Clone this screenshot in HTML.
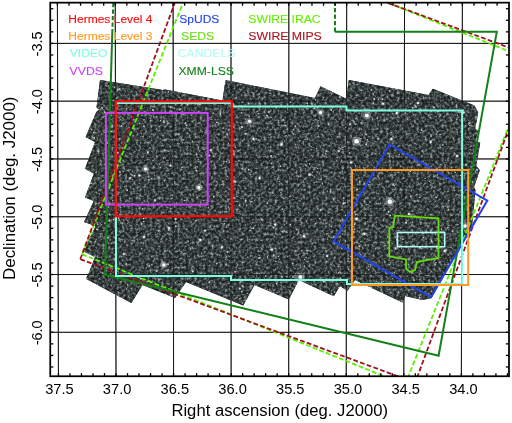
<!DOCTYPE html>
<html><head><meta charset="utf-8"><title>Survey coverage map</title>
<style>html,body{margin:0;padding:0;background:#fff}svg{display:block}</style></head>
<body>
<svg width="512" height="423" viewBox="0 0 512 423">
<defs>
<filter id="nz" x="0" y="0" width="100%" height="100%" filterUnits="objectBoundingBox" color-interpolation-filters="sRGB">
<feTurbulence type="fractalNoise" baseFrequency="0.36" numOctaves="3" seed="11" result="t"/>
<feColorMatrix in="t" type="matrix" values="0 1.667 0 0 -0.333  0 1.667 0 0 -0.333  0 1.667 0 0 -0.333  0 0 0 0 1" result="g0"/>
<feComponentTransfer in="g0" result="g"><feFuncR type="gamma" amplitude="0.47" exponent="2" offset="0.105"/><feFuncG type="gamma" amplitude="0.50" exponent="2" offset="0.125"/><feFuncB type="gamma" amplitude="0.50" exponent="2" offset="0.125"/></feComponentTransfer>
<feComposite in="g" in2="SourceGraphic" operator="in"/>
</filter>
<filter id="sb" x="-5%" y="-5%" width="110%" height="110%"><feGaussianBlur stdDeviation="0.7"/></filter>
<clipPath id="fc"><rect x="50.25" y="2.65" width="457.9" height="373.6"/></clipPath>
</defs>
<rect width="512" height="423" fill="#fff"/>
<g stroke="#111" stroke-width="0.95" fill="none" opacity="1">
<line x1="57.40" y1="2.65" x2="58.45" y2="376.25"/>
<line x1="115.26" y1="2.65" x2="116.01" y2="376.25"/>
<line x1="173.11" y1="2.65" x2="173.57" y2="376.25"/>
<line x1="230.97" y1="2.65" x2="231.13" y2="376.25"/>
<line x1="288.83" y1="2.65" x2="288.69" y2="376.25"/>
<line x1="346.68" y1="2.65" x2="346.25" y2="376.25"/>
<line x1="404.54" y1="2.65" x2="403.81" y2="376.25"/>
<line x1="462.40" y1="2.65" x2="461.37" y2="376.25"/>
<line x1="50.25" y1="43.40" x2="509.0" y2="43.40"/>
<line x1="50.25" y1="101.18" x2="509.0" y2="101.18"/>
<line x1="50.25" y1="158.96" x2="509.0" y2="158.96"/>
<line x1="50.25" y1="216.74" x2="509.0" y2="216.74"/>
<line x1="50.25" y1="274.52" x2="509.0" y2="274.52"/>
<line x1="50.25" y1="332.30" x2="509.0" y2="332.30"/>
</g>
<polygon points="100,80 163,90 165,89.5 222.5,100.5 225.5,80 315,98 320.5,86.3 346.3,98.8 348.8,80 428.5,95 432.8,88.8 474.5,105.6 478.2,112.5 475.2,128.5 478,131 475.6,141 480.2,142.8 476.3,166 479.8,170.2 474,187 475.5,190 472,227 431.6,297.9 422.5,300 405,296 402.5,302.5 355,280 347.5,291 340,286 333.8,296.3 298.8,280 288.8,299.5 254.5,285 243.2,305.5 186,282 175,298 142.5,285 131.3,303 85.8,278.8 88.8,273 95,257 83.2,251.3 95.6,226 84,222 93.8,201 85,197.5 93.8,173.8 85,168.8 95,142 85.6,137 96.3,112 99.2,109.5 96.5,107.5" fill="#3c4444"/>
<polygon points="100,80 163,90 165,89.5 222.5,100.5 225.5,80 315,98 320.5,86.3 346.3,98.8 348.8,80 428.5,95 432.8,88.8 474.5,105.6 478.2,112.5 475.2,128.5 478,131 475.6,141 480.2,142.8 476.3,166 479.8,170.2 474,187 475.5,190 472,227 431.6,297.9 422.5,300 405,296 402.5,302.5 355,280 347.5,291 340,286 333.8,296.3 298.8,280 288.8,299.5 254.5,285 243.2,305.5 186,282 175,298 142.5,285 131.3,303 85.8,278.8 88.8,273 95,257 83.2,251.3 95.6,226 84,222 93.8,201 85,197.5 93.8,173.8 85,168.8 95,142 85.6,137 96.3,112 99.2,109.5 96.5,107.5" fill="#3c4444" filter="url(#nz)"/>
<g filter="url(#sb)"><g fill="#fff">
<circle cx="145.6" cy="168.8" r="3.41" opacity="0.32"/><circle cx="145.6" cy="168.8" r="1.65"/>
<circle cx="139.4" cy="175.6" r="1.82" opacity="0.3"/><circle cx="139.4" cy="175.6" r="1.01"/>
<circle cx="198.8" cy="187.5" r="3.41" opacity="0.32"/><circle cx="198.8" cy="187.5" r="1.65"/>
<circle cx="170.6" cy="165.6" r="1.69" opacity="0.3"/><circle cx="170.6" cy="165.6" r="0.94"/>
<circle cx="130" cy="178" r="1.56" opacity="0.3"/><circle cx="130" cy="178" r="0.86"/>
<circle cx="211" cy="150" r="1.56" opacity="0.3"/><circle cx="211" cy="150" r="0.86"/>
<circle cx="155" cy="200" r="1.56" opacity="0.3"/><circle cx="155" cy="200" r="0.86"/>
<circle cx="164" cy="122" r="1.43" opacity="0.3"/><circle cx="164" cy="122" r="0.79"/>
<circle cx="320.6" cy="112.5" r="3.41" opacity="0.32"/><circle cx="320.6" cy="112.5" r="1.65"/>
<circle cx="366.9" cy="115.6" r="4.03" opacity="0.32"/><circle cx="366.9" cy="115.6" r="1.95"/>
<circle cx="356.5" cy="141.3" r="4.65" opacity="0.32"/><circle cx="356.5" cy="141.3" r="2.25"/>
<circle cx="249.4" cy="121.3" r="3.41" opacity="0.32"/><circle cx="249.4" cy="121.3" r="1.65"/>
<circle cx="281.5" cy="144.4" r="2.08" opacity="0.3"/><circle cx="281.5" cy="144.4" r="1.15"/>
<circle cx="253.4" cy="139" r="1.69" opacity="0.3"/><circle cx="253.4" cy="139" r="0.94"/>
<circle cx="383" cy="103.8" r="1.82" opacity="0.3"/><circle cx="383" cy="103.8" r="1.01"/>
<circle cx="309.7" cy="174.4" r="1.69" opacity="0.3"/><circle cx="309.7" cy="174.4" r="0.94"/>
<circle cx="338.8" cy="151" r="1.56" opacity="0.3"/><circle cx="338.8" cy="151" r="0.86"/>
<circle cx="389.8" cy="201.8" r="4.65" opacity="0.32"/><circle cx="389.8" cy="201.8" r="2.25"/>
<circle cx="259.7" cy="178" r="1.69" opacity="0.3"/><circle cx="259.7" cy="178" r="0.94"/>
<circle cx="396.9" cy="113" r="1.95" opacity="0.3"/><circle cx="396.9" cy="113" r="1.08"/>
<circle cx="391.5" cy="139" r="1.95" opacity="0.3"/><circle cx="391.5" cy="139" r="1.08"/>
<circle cx="457" cy="156" r="1.95" opacity="0.3"/><circle cx="457" cy="156" r="1.08"/>
<circle cx="463.4" cy="112.5" r="1.95" opacity="0.3"/><circle cx="463.4" cy="112.5" r="1.08"/>
<circle cx="430.6" cy="142" r="1.69" opacity="0.3"/><circle cx="430.6" cy="142" r="0.94"/>
<circle cx="351" cy="162.5" r="1.69" opacity="0.3"/><circle cx="351" cy="162.5" r="0.94"/>
<circle cx="163.8" cy="265" r="3.56" opacity="0.32"/><circle cx="163.8" cy="265" r="1.72"/>
<circle cx="144" cy="237" r="1.95" opacity="0.3"/><circle cx="144" cy="237" r="1.08"/>
<circle cx="169" cy="228" r="1.82" opacity="0.3"/><circle cx="169" cy="228" r="1.01"/>
<circle cx="200.3" cy="240" r="1.95" opacity="0.3"/><circle cx="200.3" cy="240" r="1.08"/>
<circle cx="205" cy="230.6" r="1.69" opacity="0.3"/><circle cx="205" cy="230.6" r="0.94"/>
<circle cx="123.8" cy="254" r="1.56" opacity="0.3"/><circle cx="123.8" cy="254" r="0.86"/>
<circle cx="300.3" cy="276.9" r="4.03" opacity="0.32"/><circle cx="300.3" cy="276.9" r="1.95"/>
<circle cx="304" cy="236.3" r="2.08" opacity="0.3"/><circle cx="304" cy="236.3" r="1.15"/>
<circle cx="275.3" cy="224.4" r="1.82" opacity="0.3"/><circle cx="275.3" cy="224.4" r="1.01"/>
<circle cx="272" cy="249.4" r="1.82" opacity="0.3"/><circle cx="272" cy="249.4" r="1.01"/>
<circle cx="356.5" cy="218.8" r="2.34" opacity="0.3"/><circle cx="356.5" cy="218.8" r="1.30"/>
<circle cx="364.4" cy="233.8" r="2.08" opacity="0.3"/><circle cx="364.4" cy="233.8" r="1.15"/>
<circle cx="327" cy="256" r="1.69" opacity="0.3"/><circle cx="327" cy="256" r="0.94"/>
<circle cx="465" cy="226" r="3.41" opacity="0.32"/><circle cx="465" cy="226" r="1.65"/>
<circle cx="444.7" cy="251" r="1.82" opacity="0.3"/><circle cx="444.7" cy="251" r="1.01"/>
<circle cx="242" cy="127" r="1.56" opacity="0.3"/><circle cx="242" cy="127" r="0.86"/>
<circle cx="418" cy="103" r="1.95" opacity="0.3"/><circle cx="418" cy="103" r="1.08"/>
<circle cx="409" cy="214" r="1.69" opacity="0.3"/><circle cx="409" cy="214" r="0.94"/>
<circle cx="222" cy="247" r="1.69" opacity="0.3"/><circle cx="222" cy="247" r="0.94"/>
</g><g fill="#e4eaea" opacity="0.85">
<circle cx="212.9" cy="113.9" r="0.45"/>
<circle cx="112.8" cy="200.6" r="0.7"/>
<circle cx="315.9" cy="284.7" r="0.6"/>
<circle cx="98.9" cy="177.6" r="0.5"/>
<circle cx="179.8" cy="204.0" r="0.45"/>
<circle cx="413.1" cy="107.9" r="0.6"/>
<circle cx="335.0" cy="211.2" r="0.45"/>
<circle cx="313.7" cy="169.3" r="0.6"/>
<circle cx="102.5" cy="273.2" r="0.65"/>
<circle cx="250.8" cy="201.7" r="0.65"/>
<circle cx="307.0" cy="233.5" r="0.5"/>
<circle cx="315.5" cy="223.8" r="0.7"/>
<circle cx="122.8" cy="240.2" r="0.45"/>
<circle cx="330.4" cy="191.7" r="0.8"/>
<circle cx="393.3" cy="184.8" r="0.95"/>
<circle cx="227.9" cy="135.9" r="0.55"/>
<circle cx="362.2" cy="134.9" r="0.65"/>
<circle cx="293.0" cy="276.9" r="0.95"/>
<circle cx="131.0" cy="174.1" r="0.7"/>
<circle cx="144.5" cy="190.0" r="0.45"/>
<circle cx="306.1" cy="257.5" r="0.7"/>
<circle cx="219.4" cy="158.8" r="0.95"/>
<circle cx="314.8" cy="182.6" r="0.5"/>
<circle cx="460.0" cy="186.7" r="0.5"/>
<circle cx="108.1" cy="237.8" r="0.95"/>
<circle cx="197.3" cy="166.8" r="0.7"/>
<circle cx="93.0" cy="183.9" r="0.55"/>
<circle cx="327.1" cy="191.1" r="0.6"/>
<circle cx="389.8" cy="109.1" r="0.6"/>
<circle cx="242.4" cy="286.3" r="0.95"/>
<circle cx="116.1" cy="181.1" r="0.65"/>
<circle cx="435.6" cy="264.3" r="0.65"/>
<circle cx="355.7" cy="165.6" r="0.6"/>
<circle cx="144.1" cy="119.6" r="0.6"/>
<circle cx="414.8" cy="121.0" r="0.65"/>
<circle cx="231.0" cy="207.4" r="0.55"/>
<circle cx="358.8" cy="196.0" r="0.45"/>
<circle cx="265.7" cy="276.0" r="0.8"/>
<circle cx="242.4" cy="168.7" r="0.95"/>
<circle cx="110.8" cy="127.0" r="0.55"/>
<circle cx="127.8" cy="215.2" r="0.5"/>
<circle cx="124.4" cy="161.8" r="0.45"/>
<circle cx="112.0" cy="126.8" r="0.8"/>
<circle cx="143.1" cy="136.8" r="0.7"/>
<circle cx="323.7" cy="186.7" r="0.5"/>
<circle cx="269.5" cy="188.9" r="0.5"/>
<circle cx="141.4" cy="248.7" r="0.65"/>
<circle cx="274.5" cy="235.7" r="0.45"/>
<circle cx="165.7" cy="294.2" r="0.7"/>
<circle cx="142.3" cy="202.2" r="0.45"/>
<circle cx="385.7" cy="147.1" r="0.5"/>
<circle cx="361.1" cy="138.8" r="0.7"/>
<circle cx="445.5" cy="160.0" r="0.6"/>
<circle cx="296.0" cy="255.3" r="0.7"/>
<circle cx="337.3" cy="218.0" r="0.6"/>
<circle cx="404.8" cy="264.1" r="0.6"/>
<circle cx="163.6" cy="190.9" r="0.45"/>
<circle cx="272.0" cy="123.6" r="0.7"/>
<circle cx="229.1" cy="129.6" r="0.6"/>
<circle cx="271.1" cy="156.0" r="0.95"/>
<circle cx="332.4" cy="282.6" r="0.45"/>
<circle cx="274.8" cy="226.9" r="0.5"/>
<circle cx="416.2" cy="107.0" r="0.8"/>
<circle cx="395.4" cy="248.8" r="0.95"/>
<circle cx="437.8" cy="177.6" r="0.7"/>
<circle cx="118.5" cy="292.9" r="0.8"/>
<circle cx="268.3" cy="247.3" r="0.5"/>
<circle cx="372.5" cy="118.3" r="0.55"/>
<circle cx="95.0" cy="212.9" r="0.95"/>
<circle cx="405.0" cy="112.9" r="0.95"/>
<circle cx="345.6" cy="158.8" r="0.55"/>
<circle cx="373.1" cy="103.1" r="0.55"/>
<circle cx="256.7" cy="276.1" r="0.6"/>
<circle cx="95.1" cy="127.9" r="0.6"/>
<circle cx="387.9" cy="153.3" r="0.8"/>
<circle cx="416.0" cy="93.7" r="0.7"/>
<circle cx="441.3" cy="229.1" r="0.8"/>
<circle cx="413.2" cy="277.6" r="0.55"/>
<circle cx="295.7" cy="197.8" r="0.45"/>
<circle cx="431.4" cy="254.7" r="0.45"/>
<circle cx="392.9" cy="113.7" r="0.55"/>
<circle cx="272.5" cy="243.2" r="0.45"/>
<circle cx="213.7" cy="196.6" r="0.95"/>
<circle cx="396.1" cy="103.9" r="0.45"/>
<circle cx="182.9" cy="142.3" r="0.5"/>
<circle cx="286.1" cy="206.4" r="0.5"/>
<circle cx="260.4" cy="217.8" r="0.6"/>
<circle cx="359.7" cy="181.8" r="0.95"/>
<circle cx="286.1" cy="135.7" r="0.65"/>
<circle cx="164.6" cy="180.7" r="0.8"/>
<circle cx="132.4" cy="179.5" r="0.5"/>
<circle cx="351.1" cy="176.4" r="0.6"/>
<circle cx="350.4" cy="256.4" r="0.55"/>
<circle cx="457.9" cy="224.8" r="0.7"/>
<circle cx="140.9" cy="278.6" r="0.95"/>
<circle cx="171.4" cy="294.3" r="0.8"/>
<circle cx="436.2" cy="116.6" r="0.6"/>
<circle cx="148.3" cy="177.1" r="0.8"/>
<circle cx="219.0" cy="124.0" r="0.7"/>
<circle cx="120.7" cy="162.3" r="0.7"/>
<circle cx="304.5" cy="179.1" r="0.45"/>
<circle cx="237.0" cy="196.4" r="0.65"/>
<circle cx="287.9" cy="94.5" r="0.6"/>
<circle cx="394.0" cy="140.9" r="0.55"/>
<circle cx="410.3" cy="271.2" r="0.65"/>
<circle cx="245.6" cy="200.7" r="0.95"/>
<circle cx="362.8" cy="100.1" r="0.45"/>
<circle cx="402.2" cy="121.3" r="0.5"/>
<circle cx="119.2" cy="138.6" r="0.6"/>
<circle cx="110.5" cy="274.1" r="0.95"/>
<circle cx="250.3" cy="286.0" r="0.55"/>
<circle cx="101.2" cy="239.6" r="0.5"/>
<circle cx="469.7" cy="138.9" r="0.55"/>
<circle cx="164.3" cy="150.2" r="0.65"/>
<circle cx="295.4" cy="126.3" r="0.95"/>
<circle cx="283.0" cy="120.0" r="0.7"/>
<circle cx="288.7" cy="135.3" r="0.95"/>
<circle cx="126.3" cy="264.3" r="0.8"/>
<circle cx="345.3" cy="202.8" r="0.8"/>
<circle cx="470.2" cy="149.3" r="0.6"/>
<circle cx="475.0" cy="157.1" r="0.55"/>
<circle cx="245.1" cy="158.2" r="0.45"/>
<circle cx="332.9" cy="278.0" r="0.8"/>
<circle cx="149.0" cy="99.0" r="0.8"/>
<circle cx="430.5" cy="230.9" r="0.65"/>
<circle cx="322.3" cy="235.9" r="0.45"/>
<circle cx="266.9" cy="115.4" r="0.95"/>
<circle cx="435.2" cy="129.0" r="0.55"/>
<circle cx="272.9" cy="193.1" r="0.6"/>
<circle cx="182.8" cy="254.7" r="0.5"/>
<circle cx="189.1" cy="100.2" r="0.8"/>
<circle cx="317.5" cy="168.6" r="0.65"/>
<circle cx="205.1" cy="132.4" r="0.55"/>
<circle cx="345.7" cy="241.1" r="0.8"/>
<circle cx="388.2" cy="242.2" r="0.95"/>
<circle cx="143.5" cy="242.9" r="0.55"/>
<circle cx="101.4" cy="267.9" r="0.8"/>
<circle cx="376.1" cy="262.7" r="0.55"/>
<circle cx="446.1" cy="249.4" r="0.45"/>
<circle cx="412.9" cy="211.4" r="0.6"/>
<circle cx="117.9" cy="89.4" r="0.7"/>
<circle cx="465.9" cy="164.7" r="0.95"/>
<circle cx="306.3" cy="221.2" r="0.6"/>
<circle cx="401.5" cy="248.4" r="0.5"/>
<circle cx="377.2" cy="136.7" r="0.5"/>
<circle cx="420.8" cy="132.8" r="0.6"/>
<circle cx="175.8" cy="226.2" r="0.95"/>
<circle cx="280.6" cy="166.1" r="0.95"/>
<circle cx="446.4" cy="144.6" r="0.45"/>
<circle cx="329.6" cy="224.6" r="0.5"/>
<circle cx="322.7" cy="154.6" r="0.65"/>
<circle cx="331.2" cy="110.0" r="0.95"/>
<circle cx="108.1" cy="140.5" r="0.5"/>
<circle cx="359.5" cy="232.0" r="0.65"/>
<circle cx="366.1" cy="144.2" r="0.95"/>
<circle cx="269.6" cy="106.7" r="0.6"/>
<circle cx="208.0" cy="99.3" r="0.95"/>
<circle cx="91.0" cy="183.3" r="0.95"/>
<circle cx="113.7" cy="100.3" r="0.65"/>
<circle cx="463.2" cy="109.8" r="0.65"/>
<circle cx="437.0" cy="238.3" r="0.6"/>
<circle cx="282.2" cy="277.1" r="0.8"/>
<circle cx="279.7" cy="181.4" r="0.65"/>
<circle cx="373.4" cy="173.6" r="0.8"/>
<circle cx="209.8" cy="269.1" r="0.45"/>
<circle cx="213.2" cy="156.1" r="0.8"/>
<circle cx="131.8" cy="288.4" r="0.45"/>
<circle cx="442.8" cy="145.2" r="0.7"/>
<circle cx="109.9" cy="167.8" r="0.5"/>
<circle cx="227.6" cy="176.3" r="0.65"/>
<circle cx="424.0" cy="143.1" r="0.45"/>
<circle cx="416.2" cy="144.3" r="0.55"/>
<circle cx="183.2" cy="139.8" r="0.7"/>
<circle cx="159.6" cy="164.0" r="0.8"/>
<circle cx="435.9" cy="262.7" r="0.8"/>
<circle cx="302.6" cy="241.9" r="0.45"/>
<circle cx="455.5" cy="172.4" r="0.55"/>
<circle cx="340.5" cy="144.4" r="0.45"/>
<circle cx="446.9" cy="203.8" r="0.55"/>
<circle cx="271.9" cy="157.3" r="0.65"/>
<circle cx="185.8" cy="246.2" r="0.65"/>
<circle cx="245.7" cy="133.7" r="0.95"/>
<circle cx="305.8" cy="168.7" r="0.55"/>
<circle cx="340.0" cy="96.9" r="0.95"/>
<circle cx="303.1" cy="181.9" r="0.7"/>
<circle cx="139.6" cy="123.3" r="0.5"/>
<circle cx="153.5" cy="205.1" r="0.7"/>
<circle cx="179.2" cy="138.1" r="0.6"/>
<circle cx="437.1" cy="248.7" r="0.8"/>
<circle cx="236.4" cy="247.8" r="0.6"/>
<circle cx="234.0" cy="156.1" r="0.45"/>
<circle cx="282.3" cy="209.2" r="0.7"/>
<circle cx="134.1" cy="193.3" r="0.6"/>
<circle cx="120.9" cy="281.8" r="0.8"/>
<circle cx="243.1" cy="180.3" r="0.65"/>
<circle cx="421.8" cy="276.4" r="0.45"/>
<circle cx="134.6" cy="175.7" r="0.95"/>
<circle cx="469.4" cy="190.2" r="0.5"/>
<circle cx="239.8" cy="288.5" r="0.95"/>
<circle cx="471.0" cy="135.9" r="0.5"/>
<circle cx="173.1" cy="114.2" r="0.5"/>
<circle cx="458.7" cy="242.4" r="0.95"/>
<circle cx="117.8" cy="254.8" r="0.45"/>
<circle cx="395.4" cy="132.3" r="0.45"/>
<circle cx="340.9" cy="148.4" r="0.55"/>
<circle cx="333.3" cy="198.9" r="0.8"/>
<circle cx="362.0" cy="105.2" r="0.5"/>
<circle cx="160.3" cy="138.7" r="0.45"/>
<circle cx="340.5" cy="278.8" r="0.95"/>
<circle cx="293.5" cy="203.1" r="0.45"/>
<circle cx="282.3" cy="231.8" r="0.8"/>
<circle cx="116.3" cy="131.3" r="0.8"/>
<circle cx="452.2" cy="131.0" r="0.45"/>
<circle cx="360.9" cy="241.6" r="0.7"/>
<circle cx="355.7" cy="124.6" r="0.65"/>
<circle cx="378.2" cy="193.6" r="0.6"/>
<circle cx="281.3" cy="125.1" r="0.6"/>
<circle cx="175.9" cy="129.8" r="0.65"/>
<circle cx="127.4" cy="220.3" r="0.55"/>
<circle cx="440.8" cy="189.1" r="0.45"/>
<circle cx="461.6" cy="112.9" r="0.8"/>
<circle cx="105.6" cy="85.3" r="0.55"/>
<circle cx="249.3" cy="239.7" r="0.55"/>
<circle cx="240.5" cy="282.1" r="0.7"/>
<circle cx="454.8" cy="154.1" r="0.55"/>
<circle cx="343.7" cy="198.1" r="0.95"/>
<circle cx="96.7" cy="229.5" r="0.8"/>
<circle cx="260.1" cy="104.5" r="0.5"/>
<circle cx="195.4" cy="159.1" r="0.5"/>
<circle cx="307.3" cy="250.7" r="0.8"/>
<circle cx="225.9" cy="264.9" r="0.8"/>
<circle cx="118.9" cy="238.7" r="0.6"/>
<circle cx="232.3" cy="286.9" r="0.6"/>
<circle cx="212.7" cy="245.9" r="0.95"/>
<circle cx="96.1" cy="172.4" r="0.8"/>
<circle cx="100.2" cy="87.8" r="0.5"/>
<circle cx="403.7" cy="94.0" r="0.6"/>
<circle cx="381.4" cy="282.2" r="0.7"/>
<circle cx="228.5" cy="155.4" r="0.45"/>
<circle cx="188.3" cy="241.2" r="0.7"/>
<circle cx="451.8" cy="146.9" r="0.5"/>
<circle cx="93.7" cy="132.6" r="0.95"/>
<circle cx="368.8" cy="184.8" r="0.8"/>
<circle cx="398.3" cy="285.5" r="0.95"/>
<circle cx="136.8" cy="191.7" r="0.45"/>
<circle cx="403.4" cy="246.2" r="0.55"/>
<circle cx="325.7" cy="153.8" r="0.7"/>
<circle cx="267.4" cy="256.4" r="0.5"/>
<circle cx="287.7" cy="168.1" r="0.55"/>
<circle cx="182.4" cy="94.6" r="0.45"/>
<circle cx="275.7" cy="202.5" r="0.55"/>
<circle cx="117.5" cy="101.7" r="0.95"/>
<circle cx="152.9" cy="109.9" r="0.95"/>
<circle cx="330.9" cy="231.7" r="0.5"/>
<circle cx="394.3" cy="146.1" r="0.65"/>
<circle cx="309.6" cy="163.9" r="0.65"/>
<circle cx="163.3" cy="135.7" r="0.6"/>
<circle cx="177.7" cy="143.3" r="0.6"/>
<circle cx="213.9" cy="169.1" r="0.6"/>
<circle cx="285.9" cy="132.1" r="0.5"/>
<circle cx="124.7" cy="186.8" r="0.6"/>
<circle cx="418.5" cy="285.7" r="0.45"/>
<circle cx="433.0" cy="132.4" r="0.45"/>
<circle cx="232.2" cy="274.9" r="0.95"/>
<circle cx="324.0" cy="254.4" r="0.45"/>
<circle cx="126.1" cy="214.1" r="0.7"/>
<circle cx="170.6" cy="163.0" r="0.55"/>
<circle cx="99.2" cy="244.8" r="0.6"/>
<circle cx="408.3" cy="264.2" r="0.8"/>
<circle cx="354.0" cy="121.7" r="0.65"/>
<circle cx="115.0" cy="87.1" r="0.95"/>
<circle cx="124.4" cy="168.9" r="0.55"/>
<circle cx="338.4" cy="100.5" r="0.55"/>
<circle cx="242.3" cy="141.0" r="0.65"/>
<circle cx="349.8" cy="174.0" r="0.45"/>
<circle cx="208.3" cy="207.5" r="0.7"/>
<circle cx="389.1" cy="260.5" r="0.6"/>
<circle cx="239.5" cy="171.1" r="0.45"/>
<circle cx="256.8" cy="115.2" r="0.5"/>
<circle cx="410.5" cy="171.4" r="0.7"/>
<circle cx="267.4" cy="116.6" r="0.45"/>
<circle cx="104.6" cy="112.1" r="0.8"/>
<circle cx="119.4" cy="220.0" r="0.7"/>
<circle cx="377.4" cy="118.6" r="0.7"/>
<circle cx="196.8" cy="197.3" r="0.5"/>
<circle cx="127.3" cy="190.4" r="0.6"/>
<circle cx="204.0" cy="268.4" r="0.45"/>
<circle cx="472.3" cy="188.6" r="0.45"/>
<circle cx="325.8" cy="223.2" r="0.5"/>
<circle cx="443.9" cy="219.6" r="0.55"/>
<circle cx="338.8" cy="272.7" r="0.8"/>
<circle cx="328.7" cy="124.1" r="0.95"/>
<circle cx="156.8" cy="129.1" r="0.8"/>
<circle cx="457.5" cy="115.2" r="0.7"/>
<circle cx="133.0" cy="135.6" r="0.6"/>
<circle cx="100.4" cy="206.5" r="0.45"/>
<circle cx="349.8" cy="152.9" r="0.8"/>
<circle cx="322.6" cy="203.8" r="0.65"/>
<circle cx="342.3" cy="149.3" r="0.6"/>
<circle cx="253.4" cy="228.2" r="0.95"/>
<circle cx="284.4" cy="120.2" r="0.45"/>
<circle cx="330.3" cy="190.1" r="0.6"/>
<circle cx="261.8" cy="219.2" r="0.95"/>
<circle cx="416.9" cy="262.4" r="0.8"/>
<circle cx="126.6" cy="108.9" r="0.8"/>
<circle cx="229.4" cy="260.5" r="0.45"/>
<circle cx="100.2" cy="109.3" r="0.7"/>
<circle cx="393.5" cy="195.1" r="0.45"/>
<circle cx="383.3" cy="281.3" r="0.55"/>
<circle cx="328.4" cy="235.8" r="0.5"/>
<circle cx="279.8" cy="295.2" r="0.55"/>
<circle cx="357.1" cy="242.2" r="0.6"/>
<circle cx="110.1" cy="159.0" r="0.65"/>
<circle cx="147.2" cy="281.7" r="0.65"/>
<circle cx="444.2" cy="182.7" r="0.65"/>
<circle cx="283.9" cy="287.0" r="0.6"/>
<circle cx="319.6" cy="218.6" r="0.6"/>
<circle cx="156.5" cy="116.3" r="0.65"/>
<circle cx="151.2" cy="256.6" r="0.5"/>
<circle cx="389.8" cy="90.9" r="0.7"/>
<circle cx="468.5" cy="181.9" r="0.5"/>
<circle cx="184.3" cy="200.5" r="0.8"/>
<circle cx="377.7" cy="163.6" r="0.8"/>
<circle cx="227.4" cy="252.0" r="0.95"/>
<circle cx="175.6" cy="218.5" r="0.45"/>
<circle cx="202.0" cy="196.1" r="0.65"/>
<circle cx="317.2" cy="229.3" r="0.7"/>
<circle cx="375.7" cy="248.1" r="0.6"/>
<circle cx="143.4" cy="218.6" r="0.8"/>
<circle cx="250.2" cy="161.9" r="0.45"/>
<circle cx="136.5" cy="131.1" r="0.45"/>
<circle cx="225.3" cy="103.9" r="0.7"/>
<circle cx="296.6" cy="173.0" r="0.65"/>
<circle cx="318.5" cy="125.9" r="0.95"/>
<circle cx="403.0" cy="239.2" r="0.95"/>
<circle cx="122.1" cy="223.6" r="0.65"/>
<circle cx="244.0" cy="139.5" r="0.45"/>
<circle cx="106.3" cy="264.7" r="0.7"/>
<circle cx="320.7" cy="210.2" r="0.95"/>
<circle cx="182.9" cy="283.3" r="0.45"/>
<circle cx="108.5" cy="85.7" r="0.55"/>
<circle cx="178.6" cy="93.1" r="0.5"/>
<circle cx="458.5" cy="112.0" r="0.6"/>
<circle cx="290.3" cy="224.6" r="0.8"/>
<circle cx="407.7" cy="119.3" r="0.65"/>
<circle cx="109.4" cy="220.8" r="0.95"/>
<circle cx="420.1" cy="247.7" r="0.95"/>
<circle cx="116.0" cy="227.5" r="0.55"/>
<circle cx="173.9" cy="103.7" r="0.6"/>
<circle cx="340.3" cy="107.7" r="0.65"/>
<circle cx="367.3" cy="139.8" r="0.8"/>
<circle cx="470.8" cy="146.5" r="0.6"/>
<circle cx="118.0" cy="194.2" r="0.55"/>
<circle cx="187.6" cy="133.1" r="0.6"/>
<circle cx="460.0" cy="247.9" r="0.7"/>
<circle cx="160.4" cy="167.5" r="0.6"/>
<circle cx="235.0" cy="271.7" r="0.95"/>
<circle cx="271.9" cy="199.4" r="0.45"/>
<circle cx="425.3" cy="178.4" r="0.6"/>
<circle cx="311.0" cy="149.2" r="0.6"/>
<circle cx="239.8" cy="211.7" r="0.55"/>
<circle cx="126.5" cy="289.0" r="0.7"/>
<circle cx="111.0" cy="90.5" r="0.7"/>
<circle cx="296.5" cy="229.4" r="0.8"/>
<circle cx="126.6" cy="126.3" r="0.5"/>
<circle cx="446.6" cy="249.6" r="0.5"/>
<circle cx="412.4" cy="222.1" r="0.65"/>
<circle cx="273.9" cy="109.8" r="0.6"/>
<circle cx="201.2" cy="155.7" r="0.65"/>
<circle cx="92.3" cy="137.8" r="0.65"/>
<circle cx="103.3" cy="251.0" r="0.7"/>
<circle cx="390.2" cy="215.5" r="0.95"/>
<circle cx="422.8" cy="219.1" r="0.45"/>
<circle cx="290.4" cy="102.1" r="0.95"/>
<circle cx="364.5" cy="201.0" r="0.6"/>
<circle cx="368.3" cy="266.3" r="0.65"/>
<circle cx="164.4" cy="251.5" r="0.45"/>
<circle cx="279.6" cy="259.3" r="0.55"/>
<circle cx="468.9" cy="213.3" r="0.65"/>
<circle cx="314.0" cy="115.8" r="0.6"/>
<circle cx="457.4" cy="132.1" r="0.55"/>
<circle cx="127.7" cy="223.2" r="0.5"/>
<circle cx="307.4" cy="103.5" r="0.7"/>
<circle cx="225.5" cy="170.3" r="0.8"/>
<circle cx="439.0" cy="247.7" r="0.8"/>
<circle cx="166.0" cy="139.2" r="0.55"/>
<circle cx="235.0" cy="278.9" r="0.6"/>
<circle cx="459.7" cy="108.5" r="0.45"/>
<circle cx="222.7" cy="153.5" r="0.55"/>
<circle cx="429.5" cy="181.3" r="0.7"/>
<circle cx="151.5" cy="178.7" r="0.65"/>
<circle cx="314.5" cy="108.4" r="0.95"/>
<circle cx="339.8" cy="236.7" r="0.6"/>
<circle cx="190.5" cy="249.8" r="0.55"/>
<circle cx="371.8" cy="215.7" r="0.7"/>
<circle cx="148.0" cy="153.8" r="0.6"/>
<circle cx="345.8" cy="124.0" r="0.55"/>
<circle cx="375.9" cy="177.9" r="0.6"/>
<circle cx="127.5" cy="285.1" r="0.65"/>
<circle cx="166.2" cy="167.4" r="0.45"/>
<circle cx="257.7" cy="130.1" r="0.65"/>
<circle cx="268.4" cy="111.9" r="0.8"/>
<circle cx="423.5" cy="237.8" r="0.8"/>
<circle cx="420.7" cy="230.3" r="0.6"/>
<circle cx="354.5" cy="224.3" r="0.95"/>
<circle cx="256.1" cy="138.5" r="0.5"/>
<circle cx="440.1" cy="134.5" r="0.8"/>
<circle cx="367.8" cy="221.7" r="0.65"/>
<circle cx="422.1" cy="188.6" r="0.45"/>
<circle cx="331.4" cy="172.1" r="0.55"/>
<circle cx="440.0" cy="153.8" r="0.45"/>
<circle cx="238.7" cy="190.2" r="0.5"/>
<circle cx="99.2" cy="202.3" r="0.55"/>
<circle cx="163.5" cy="158.3" r="0.95"/>
<circle cx="299.3" cy="241.4" r="0.45"/>
<circle cx="338.4" cy="266.5" r="0.7"/>
<circle cx="247.3" cy="293.3" r="0.6"/>
<circle cx="288.5" cy="289.9" r="0.7"/>
<circle cx="337.8" cy="136.8" r="0.8"/>
<circle cx="250.6" cy="174.6" r="0.7"/>
<circle cx="314.9" cy="104.6" r="0.65"/>
<circle cx="293.8" cy="129.3" r="0.8"/>
<circle cx="267.9" cy="117.0" r="0.5"/>
<circle cx="406.2" cy="222.7" r="0.95"/>
<circle cx="339.6" cy="242.2" r="0.55"/>
<circle cx="224.5" cy="223.7" r="0.8"/>
<circle cx="270.3" cy="146.2" r="0.55"/>
<circle cx="394.4" cy="185.6" r="0.6"/>
<circle cx="190.4" cy="164.6" r="0.65"/>
<circle cx="275.7" cy="261.2" r="0.65"/>
<circle cx="226.5" cy="227.2" r="0.7"/>
<circle cx="274.9" cy="176.4" r="0.5"/>
<circle cx="346.4" cy="161.5" r="0.65"/>
<circle cx="413.5" cy="283.8" r="0.55"/>
<circle cx="295.2" cy="157.7" r="0.45"/>
<circle cx="345.6" cy="127.2" r="0.5"/>
<circle cx="345.1" cy="136.3" r="0.5"/>
<circle cx="314.2" cy="272.2" r="0.55"/>
<circle cx="393.0" cy="157.9" r="0.55"/>
<circle cx="167.0" cy="170.6" r="0.55"/>
<circle cx="326.6" cy="234.8" r="0.5"/>
<circle cx="350.0" cy="281.1" r="0.65"/>
<circle cx="162.6" cy="235.9" r="0.5"/>
<circle cx="379.3" cy="178.7" r="0.5"/>
<circle cx="304.9" cy="139.5" r="0.6"/>
<circle cx="413.2" cy="186.5" r="0.45"/>
<circle cx="276.8" cy="283.7" r="0.95"/>
<circle cx="182.1" cy="117.0" r="0.45"/>
<circle cx="147.8" cy="152.2" r="0.95"/>
<circle cx="348.8" cy="269.1" r="0.7"/>
<circle cx="353.0" cy="120.6" r="0.7"/>
<circle cx="326.7" cy="233.6" r="0.7"/>
<circle cx="405.8" cy="101.1" r="0.95"/>
<circle cx="276.9" cy="282.0" r="0.45"/>
<circle cx="168.9" cy="173.5" r="0.55"/>
<circle cx="218.8" cy="273.9" r="0.7"/>
<circle cx="219.8" cy="255.2" r="0.6"/>
<circle cx="197.1" cy="156.9" r="0.65"/>
<circle cx="304.5" cy="266.0" r="0.65"/>
<circle cx="225.4" cy="191.1" r="0.7"/>
<circle cx="284.5" cy="141.1" r="0.7"/>
<circle cx="399.2" cy="154.5" r="0.7"/>
<circle cx="367.8" cy="108.7" r="0.5"/>
<circle cx="396.1" cy="89.0" r="0.8"/>
<circle cx="159.6" cy="287.3" r="0.45"/>
<circle cx="398.0" cy="284.7" r="0.8"/>
<circle cx="329.4" cy="221.0" r="0.5"/>
<circle cx="168.6" cy="230.1" r="0.95"/>
<circle cx="332.9" cy="119.1" r="0.55"/>
<circle cx="429.9" cy="174.9" r="0.5"/>
<circle cx="447.8" cy="227.5" r="0.7"/>
<circle cx="431.0" cy="111.2" r="0.65"/>
<circle cx="307.7" cy="138.1" r="0.65"/>
<circle cx="92.1" cy="207.4" r="0.45"/>
<circle cx="282.1" cy="197.5" r="0.5"/>
<circle cx="392.0" cy="174.7" r="0.8"/>
<circle cx="238.1" cy="213.2" r="0.55"/>
<circle cx="273.2" cy="172.8" r="0.5"/>
<circle cx="117.0" cy="186.2" r="0.55"/>
<circle cx="333.5" cy="176.1" r="0.45"/>
<circle cx="356.1" cy="107.4" r="0.5"/>
<circle cx="170.9" cy="107.3" r="0.95"/>
<circle cx="91.1" cy="241.9" r="0.6"/>
<circle cx="263.4" cy="247.4" r="0.45"/>
<circle cx="229.6" cy="248.1" r="0.55"/>
<circle cx="374.4" cy="99.0" r="0.95"/>
<circle cx="267.3" cy="289.8" r="0.65"/>
<circle cx="435.6" cy="234.5" r="0.5"/>
<circle cx="238.8" cy="150.3" r="0.55"/>
<circle cx="326.4" cy="151.2" r="0.95"/>
<circle cx="271.0" cy="117.5" r="0.5"/>
<circle cx="228.6" cy="225.1" r="0.8"/>
<circle cx="273.8" cy="255.1" r="0.95"/>
<circle cx="309.6" cy="145.8" r="0.45"/>
<circle cx="331.5" cy="226.5" r="0.7"/>
<circle cx="430.1" cy="243.3" r="0.45"/>
<circle cx="414.9" cy="215.3" r="0.65"/>
<circle cx="182.0" cy="167.2" r="0.8"/>
<circle cx="323.5" cy="281.6" r="0.95"/>
<circle cx="188.7" cy="175.1" r="0.45"/>
<circle cx="198.8" cy="111.7" r="0.55"/>
<circle cx="193.0" cy="271.5" r="0.95"/>
<circle cx="304.4" cy="259.4" r="0.6"/>
<circle cx="397.5" cy="242.5" r="0.6"/>
<circle cx="241.4" cy="239.4" r="0.65"/>
<circle cx="237.2" cy="201.6" r="0.7"/>
<circle cx="391.3" cy="132.4" r="0.65"/>
<circle cx="436.3" cy="197.4" r="0.95"/>
<circle cx="285.5" cy="125.4" r="0.6"/>
<circle cx="160.5" cy="120.7" r="0.65"/>
<circle cx="228.4" cy="207.0" r="0.8"/>
<circle cx="394.3" cy="272.8" r="0.6"/>
<circle cx="232.9" cy="103.9" r="0.95"/>
<circle cx="397.4" cy="115.1" r="0.45"/>
<circle cx="221.3" cy="196.9" r="0.45"/>
<circle cx="121.4" cy="126.0" r="0.95"/>
<circle cx="317.5" cy="128.1" r="0.65"/>
<circle cx="389.4" cy="264.2" r="0.55"/>
<circle cx="164.0" cy="120.7" r="0.5"/>
<circle cx="231.1" cy="238.8" r="0.95"/>
<circle cx="109.5" cy="214.6" r="0.8"/>
<circle cx="451.0" cy="238.9" r="0.5"/>
<circle cx="186.4" cy="207.0" r="0.5"/>
<circle cx="464.7" cy="230.7" r="0.8"/>
<circle cx="156.7" cy="271.2" r="0.7"/>
<circle cx="185.8" cy="159.2" r="0.45"/>
<circle cx="397.0" cy="239.7" r="0.95"/>
<circle cx="106.2" cy="112.6" r="0.45"/>
<circle cx="457.9" cy="232.3" r="0.65"/>
<circle cx="318.7" cy="179.3" r="0.5"/>
<circle cx="271.3" cy="163.6" r="0.8"/>
<circle cx="133.4" cy="188.3" r="0.55"/>
<circle cx="259.7" cy="261.7" r="0.45"/>
<circle cx="270.2" cy="285.3" r="0.45"/>
<circle cx="146.5" cy="267.4" r="0.5"/>
<circle cx="437.7" cy="111.4" r="0.95"/>
<circle cx="237.3" cy="84.9" r="0.5"/>
<circle cx="264.0" cy="156.5" r="0.6"/>
<circle cx="274.1" cy="221.3" r="0.55"/>
<circle cx="216.1" cy="245.6" r="0.55"/>
<circle cx="368.1" cy="204.5" r="0.55"/>
<circle cx="258.7" cy="113.6" r="0.8"/>
<circle cx="247.9" cy="115.0" r="0.65"/>
<circle cx="311.3" cy="146.7" r="0.55"/>
<circle cx="187.7" cy="104.6" r="0.95"/>
<circle cx="443.5" cy="105.7" r="0.45"/>
<circle cx="335.1" cy="257.2" r="0.6"/>
<circle cx="306.9" cy="267.9" r="0.5"/>
<circle cx="186.6" cy="125.4" r="0.7"/>
<circle cx="256.0" cy="138.8" r="0.6"/>
<circle cx="452.2" cy="102.0" r="0.65"/>
<circle cx="249.4" cy="116.5" r="0.65"/>
<circle cx="141.5" cy="224.0" r="0.95"/>
<circle cx="405.2" cy="156.7" r="0.55"/>
<circle cx="260.3" cy="257.7" r="0.65"/>
<circle cx="158.0" cy="177.9" r="0.8"/>
<circle cx="170.9" cy="208.6" r="0.55"/>
<circle cx="419.7" cy="197.4" r="0.6"/>
<circle cx="367.2" cy="124.3" r="0.5"/>
<circle cx="413.9" cy="280.1" r="0.95"/>
<circle cx="387.0" cy="119.4" r="0.55"/>
<circle cx="327.7" cy="239.2" r="0.6"/>
<circle cx="316.0" cy="125.5" r="0.5"/>
<circle cx="359.5" cy="196.9" r="0.45"/>
<circle cx="290.3" cy="158.2" r="0.65"/>
<circle cx="419.1" cy="274.5" r="0.95"/>
<circle cx="120.0" cy="172.1" r="0.95"/>
<circle cx="137.0" cy="229.7" r="0.6"/>
<circle cx="158.0" cy="267.1" r="0.7"/>
<circle cx="98.6" cy="238.0" r="0.45"/>
<circle cx="225.8" cy="289.7" r="0.5"/>
<circle cx="132.1" cy="240.8" r="0.7"/>
<circle cx="394.1" cy="275.3" r="0.45"/>
<circle cx="200.0" cy="104.2" r="0.95"/>
<circle cx="404.2" cy="110.2" r="0.6"/>
<circle cx="469.0" cy="130.3" r="0.55"/>
<circle cx="150.8" cy="150.2" r="0.45"/>
<circle cx="378.0" cy="138.8" r="0.95"/>
<circle cx="292.1" cy="238.1" r="0.5"/>
<circle cx="223.6" cy="101.1" r="0.55"/>
<circle cx="102.0" cy="107.7" r="0.95"/>
<circle cx="317.2" cy="251.3" r="0.5"/>
<circle cx="132.6" cy="171.3" r="0.55"/>
<circle cx="299.6" cy="131.2" r="0.6"/>
<circle cx="142.6" cy="208.9" r="0.8"/>
<circle cx="149.4" cy="265.9" r="0.8"/>
<circle cx="360.2" cy="214.3" r="0.45"/>
<circle cx="241.5" cy="291.8" r="0.7"/>
<circle cx="218.7" cy="134.1" r="0.7"/>
<circle cx="368.8" cy="269.7" r="0.7"/>
<circle cx="408.4" cy="270.7" r="0.45"/>
<circle cx="213.3" cy="113.0" r="0.7"/>
<circle cx="183.2" cy="175.0" r="0.45"/>
<circle cx="229.0" cy="199.4" r="0.5"/>
<circle cx="213.1" cy="125.2" r="0.45"/>
<circle cx="173.7" cy="174.7" r="0.8"/>
<circle cx="393.1" cy="290.8" r="0.45"/>
<circle cx="406.1" cy="279.0" r="0.45"/>
<circle cx="97.7" cy="224.4" r="0.65"/>
<circle cx="449.3" cy="220.3" r="0.45"/>
<circle cx="331.3" cy="136.4" r="0.45"/>
<circle cx="198.4" cy="148.7" r="0.55"/>
<circle cx="131.9" cy="213.7" r="0.65"/>
<circle cx="117.6" cy="212.8" r="0.55"/>
<circle cx="259.1" cy="195.1" r="0.65"/>
<circle cx="448.4" cy="209.9" r="0.65"/>
<circle cx="180.9" cy="99.8" r="0.65"/>
<circle cx="418.2" cy="217.2" r="0.6"/>
<circle cx="342.8" cy="125.3" r="0.7"/>
<circle cx="267.4" cy="203.3" r="0.95"/>
<circle cx="270.6" cy="149.9" r="0.6"/>
<circle cx="216.8" cy="122.5" r="0.8"/>
<circle cx="469.9" cy="169.2" r="0.7"/>
<circle cx="212.9" cy="153.2" r="0.65"/>
<circle cx="201.6" cy="253.7" r="0.55"/>
<circle cx="303.3" cy="216.3" r="0.7"/>
<circle cx="259.1" cy="94.0" r="0.8"/>
<circle cx="416.1" cy="159.7" r="0.5"/>
<circle cx="249.9" cy="230.4" r="0.55"/>
<circle cx="352.8" cy="218.7" r="0.65"/>
<circle cx="410.8" cy="196.5" r="0.95"/>
<circle cx="190.9" cy="221.9" r="0.55"/>
<circle cx="248.4" cy="103.3" r="0.8"/>
<circle cx="388.7" cy="211.8" r="0.95"/>
<circle cx="242.2" cy="303.4" r="0.55"/>
<circle cx="250.3" cy="256.3" r="0.5"/>
<circle cx="235.1" cy="181.8" r="0.95"/>
<circle cx="198.6" cy="159.3" r="0.7"/>
<circle cx="239.5" cy="205.0" r="0.8"/>
<circle cx="235.5" cy="147.5" r="0.65"/>
<circle cx="403.6" cy="178.0" r="0.8"/>
<circle cx="315.5" cy="99.8" r="0.7"/>
<circle cx="212.9" cy="269.8" r="0.6"/>
<circle cx="465.6" cy="126.0" r="0.8"/>
<circle cx="94.2" cy="137.7" r="0.95"/>
<circle cx="203.3" cy="200.7" r="0.65"/>
<circle cx="289.9" cy="196.4" r="0.8"/>
<circle cx="239.0" cy="160.5" r="0.7"/>
<circle cx="111.2" cy="131.6" r="0.8"/>
<circle cx="233.0" cy="170.2" r="0.55"/>
<circle cx="277.7" cy="179.0" r="0.7"/>
<circle cx="359.2" cy="248.0" r="0.5"/>
<circle cx="151.9" cy="151.6" r="0.5"/>
<circle cx="412.8" cy="195.3" r="0.5"/>
<circle cx="345.1" cy="146.4" r="0.7"/>
<circle cx="437.5" cy="174.7" r="0.55"/>
<circle cx="292.6" cy="263.6" r="0.6"/>
<circle cx="284.9" cy="122.3" r="0.55"/>
<circle cx="107.9" cy="207.1" r="0.5"/>
<circle cx="247.7" cy="257.2" r="0.65"/>
<circle cx="366.8" cy="204.4" r="0.65"/>
<circle cx="242.2" cy="102.2" r="0.45"/>
<circle cx="349.9" cy="124.2" r="0.95"/>
<circle cx="390.0" cy="207.6" r="0.55"/>
<circle cx="312.6" cy="172.5" r="0.5"/>
<circle cx="141.9" cy="196.6" r="0.5"/>
<circle cx="461.2" cy="190.3" r="0.95"/>
<circle cx="328.0" cy="261.5" r="0.45"/>
<circle cx="342.7" cy="234.0" r="0.7"/>
<circle cx="141.3" cy="133.6" r="0.65"/>
<circle cx="151.4" cy="140.0" r="0.5"/>
<circle cx="426.0" cy="293.2" r="0.5"/>
<circle cx="222.9" cy="181.2" r="0.8"/>
<circle cx="91.8" cy="129.5" r="0.8"/>
<circle cx="259.0" cy="219.5" r="0.6"/>
<circle cx="172.7" cy="115.9" r="0.55"/>
<circle cx="209.3" cy="282.2" r="0.95"/>
<circle cx="204.9" cy="215.6" r="0.95"/>
<circle cx="353.6" cy="231.9" r="0.6"/>
<circle cx="248.6" cy="169.7" r="0.95"/>
<circle cx="92.9" cy="275.3" r="0.5"/>
<circle cx="153.0" cy="160.6" r="0.55"/>
<circle cx="87.0" cy="278.5" r="0.8"/>
<circle cx="307.5" cy="105.8" r="0.8"/>
<circle cx="217.7" cy="226.5" r="0.5"/>
<circle cx="252.1" cy="285.4" r="0.6"/>
<circle cx="238.2" cy="185.1" r="0.7"/>
<circle cx="348.4" cy="156.8" r="0.55"/>
<circle cx="180.2" cy="109.2" r="0.6"/>
<circle cx="191.3" cy="267.9" r="0.55"/>
<circle cx="304.9" cy="185.1" r="0.6"/>
<circle cx="147.4" cy="159.4" r="0.8"/>
<circle cx="234.0" cy="295.6" r="0.6"/>
<circle cx="202.3" cy="187.1" r="0.6"/>
<circle cx="174.5" cy="181.9" r="0.55"/>
<circle cx="321.2" cy="179.1" r="0.7"/>
<circle cx="296.8" cy="170.9" r="0.6"/>
<circle cx="134.0" cy="248.9" r="0.5"/>
<circle cx="300.0" cy="140.8" r="0.8"/>
<circle cx="95.4" cy="241.6" r="0.55"/>
<circle cx="207.7" cy="167.7" r="0.5"/>
<circle cx="360.5" cy="254.6" r="0.6"/>
<circle cx="211.8" cy="229.1" r="0.5"/>
<circle cx="111.1" cy="285.6" r="0.65"/>
<circle cx="160.7" cy="241.7" r="0.5"/>
<circle cx="174.1" cy="108.4" r="0.8"/>
<circle cx="196.4" cy="170.8" r="0.95"/>
<circle cx="392.4" cy="278.6" r="0.55"/>
<circle cx="456.8" cy="119.7" r="0.7"/>
<circle cx="354.5" cy="229.3" r="0.7"/>
<circle cx="364.1" cy="184.1" r="0.8"/>
<circle cx="224.1" cy="221.5" r="0.55"/>
<circle cx="200.0" cy="140.9" r="0.6"/>
<circle cx="367.6" cy="89.1" r="0.45"/>
<circle cx="326.2" cy="176.9" r="0.65"/>
<circle cx="146.2" cy="246.1" r="0.65"/>
<circle cx="334.5" cy="291.9" r="0.6"/>
<circle cx="310.9" cy="241.2" r="0.65"/>
<circle cx="452.4" cy="230.8" r="0.7"/>
<circle cx="456.4" cy="105.2" r="0.65"/>
<circle cx="442.6" cy="276.9" r="0.45"/>
<circle cx="98.8" cy="151.7" r="0.7"/>
<circle cx="382.3" cy="99.4" r="0.8"/>
<circle cx="171.9" cy="198.6" r="0.7"/>
<circle cx="460.7" cy="175.4" r="0.7"/>
<circle cx="359.3" cy="246.2" r="0.95"/>
<circle cx="286.4" cy="232.2" r="0.6"/>
<circle cx="254.5" cy="195.2" r="0.55"/>
<circle cx="278.8" cy="122.6" r="0.65"/>
<circle cx="153.5" cy="116.8" r="0.6"/>
<circle cx="300.5" cy="136.2" r="0.45"/>
<circle cx="150.9" cy="158.1" r="0.5"/>
<circle cx="164.2" cy="149.9" r="0.55"/>
<circle cx="357.1" cy="189.4" r="0.95"/>
<circle cx="178.7" cy="134.4" r="0.95"/>
<circle cx="137.0" cy="224.2" r="0.65"/>
<circle cx="137.1" cy="239.2" r="0.6"/>
<circle cx="216.8" cy="263.5" r="0.8"/>
<circle cx="386.7" cy="118.1" r="0.55"/>
<circle cx="322.3" cy="183.8" r="0.8"/>
<circle cx="414.8" cy="105.8" r="0.65"/>
<circle cx="88.9" cy="189.5" r="0.45"/>
<circle cx="108.0" cy="143.2" r="0.6"/>
<circle cx="128.0" cy="149.5" r="0.5"/>
<circle cx="148.2" cy="180.1" r="0.7"/>
<circle cx="199.2" cy="205.4" r="0.45"/>
<circle cx="382.7" cy="98.9" r="0.7"/>
<circle cx="127.3" cy="190.0" r="0.8"/>
<circle cx="278.4" cy="256.4" r="0.7"/>
<circle cx="340.5" cy="221.2" r="0.65"/>
<circle cx="241.3" cy="112.7" r="0.7"/>
<circle cx="157.9" cy="223.6" r="0.55"/>
<circle cx="124.7" cy="241.7" r="0.65"/>
<circle cx="379.4" cy="153.5" r="0.55"/>
<circle cx="341.6" cy="160.2" r="0.6"/>
<circle cx="230.7" cy="204.0" r="0.7"/>
<circle cx="417.5" cy="137.0" r="0.45"/>
<circle cx="100.4" cy="207.5" r="0.8"/>
<circle cx="280.8" cy="192.4" r="0.55"/>
<circle cx="333.3" cy="111.9" r="0.6"/>
<circle cx="149.1" cy="179.7" r="0.8"/>
<circle cx="119.7" cy="89.0" r="0.95"/>
<circle cx="274.8" cy="129.1" r="0.7"/>
<circle cx="424.4" cy="257.1" r="0.8"/>
<circle cx="141.0" cy="96.2" r="0.45"/>
<circle cx="288.8" cy="174.8" r="0.7"/>
<circle cx="109.0" cy="82.0" r="0.55"/>
<circle cx="443.8" cy="117.0" r="0.65"/>
<circle cx="352.8" cy="207.7" r="0.95"/>
<circle cx="117.8" cy="152.8" r="0.95"/>
<circle cx="254.5" cy="200.3" r="0.55"/>
<circle cx="330.7" cy="262.5" r="0.45"/>
<circle cx="371.7" cy="154.6" r="0.65"/>
<circle cx="308.9" cy="174.8" r="0.7"/>
<circle cx="275.3" cy="225.7" r="0.65"/>
<circle cx="428.4" cy="199.3" r="0.45"/>
<circle cx="421.5" cy="130.1" r="0.95"/>
<circle cx="359.2" cy="113.1" r="0.7"/>
<circle cx="227.3" cy="134.1" r="0.95"/>
<circle cx="241.7" cy="105.7" r="0.55"/>
<circle cx="469.5" cy="125.6" r="0.5"/>
<circle cx="172.1" cy="268.4" r="0.5"/>
<circle cx="158.6" cy="230.8" r="0.95"/>
<circle cx="174.3" cy="183.1" r="0.5"/>
<circle cx="376.8" cy="284.6" r="0.5"/>
<circle cx="422.9" cy="232.9" r="0.95"/>
<circle cx="137.4" cy="193.2" r="0.5"/>
<circle cx="333.4" cy="296.1" r="0.5"/>
<circle cx="267.1" cy="234.3" r="0.55"/>
<circle cx="469.2" cy="123.1" r="0.95"/>
<circle cx="392.4" cy="110.8" r="0.45"/>
<circle cx="244.9" cy="90.6" r="0.45"/>
<circle cx="90.0" cy="213.7" r="0.6"/>
<circle cx="267.0" cy="107.1" r="0.55"/>
<circle cx="253.5" cy="279.9" r="0.6"/>
<circle cx="430.6" cy="117.8" r="0.7"/>
<circle cx="404.0" cy="245.6" r="0.45"/>
<circle cx="412.6" cy="107.6" r="0.7"/>
<circle cx="288.2" cy="198.1" r="0.7"/>
<circle cx="371.3" cy="89.8" r="0.7"/>
<circle cx="123.7" cy="203.5" r="0.5"/>
<circle cx="97.6" cy="284.8" r="0.6"/>
<circle cx="185.3" cy="123.5" r="0.95"/>
<circle cx="259.1" cy="258.0" r="0.95"/>
<circle cx="127.9" cy="260.2" r="0.55"/>
<circle cx="431.8" cy="230.7" r="0.55"/>
<circle cx="318.1" cy="136.3" r="0.65"/>
<circle cx="220.3" cy="114.0" r="0.95"/>
<circle cx="431.5" cy="260.1" r="0.45"/>
<circle cx="113.7" cy="219.6" r="0.8"/>
<circle cx="419.5" cy="297.7" r="0.95"/>
<circle cx="240.6" cy="276.4" r="0.5"/>
<circle cx="227.7" cy="198.9" r="0.65"/>
<circle cx="439.8" cy="212.6" r="0.45"/>
<circle cx="168.1" cy="264.3" r="0.95"/>
<circle cx="215.9" cy="185.4" r="0.7"/>
<circle cx="209.1" cy="155.5" r="0.95"/>
<circle cx="102.1" cy="112.8" r="0.55"/>
<circle cx="192.5" cy="141.5" r="0.65"/>
<circle cx="226.0" cy="209.0" r="0.55"/>
<circle cx="307.1" cy="253.5" r="0.6"/>
<circle cx="392.2" cy="222.4" r="0.5"/>
<circle cx="228.4" cy="143.4" r="0.6"/>
<circle cx="431.4" cy="291.2" r="0.5"/>
<circle cx="205.0" cy="251.7" r="0.7"/>
<circle cx="286.5" cy="222.9" r="0.7"/>
<circle cx="431.4" cy="241.0" r="0.7"/>
<circle cx="108.1" cy="155.9" r="0.7"/>
<circle cx="435.7" cy="256.1" r="0.7"/>
<circle cx="439.9" cy="262.1" r="0.7"/>
<circle cx="144.0" cy="126.2" r="0.95"/>
<circle cx="245.2" cy="169.1" r="0.65"/>
<circle cx="453.9" cy="212.0" r="0.55"/>
<circle cx="204.0" cy="149.4" r="0.7"/>
<circle cx="113.3" cy="122.8" r="0.5"/>
<circle cx="316.8" cy="148.5" r="0.7"/>
<circle cx="477.0" cy="160.3" r="0.8"/>
<circle cx="371.0" cy="287.4" r="0.95"/>
<circle cx="211.1" cy="119.4" r="0.65"/>
<circle cx="301.5" cy="250.7" r="0.65"/>
<circle cx="103.0" cy="180.8" r="0.65"/>
<circle cx="427.9" cy="225.8" r="0.6"/>
<circle cx="180.2" cy="92.8" r="0.55"/>
<circle cx="323.2" cy="97.8" r="0.7"/>
<circle cx="191.7" cy="224.6" r="0.45"/>
<circle cx="338.7" cy="287.6" r="0.6"/>
<circle cx="212.0" cy="275.2" r="0.45"/>
<circle cx="342.3" cy="171.2" r="0.7"/>
<circle cx="153.5" cy="274.2" r="0.45"/>
<circle cx="118.7" cy="217.9" r="0.95"/>
<circle cx="477.2" cy="169.9" r="0.95"/>
<circle cx="210.1" cy="227.2" r="0.7"/>
<circle cx="106.3" cy="218.1" r="0.7"/>
<circle cx="167.8" cy="199.1" r="0.5"/>
<circle cx="226.4" cy="161.4" r="0.7"/>
<circle cx="298.4" cy="212.4" r="0.55"/>
<circle cx="345.6" cy="215.4" r="0.7"/>
<circle cx="175.5" cy="219.2" r="0.95"/>
<circle cx="387.8" cy="254.6" r="0.65"/>
<circle cx="343.4" cy="203.6" r="0.95"/>
<circle cx="306.6" cy="161.3" r="0.65"/>
<circle cx="273.4" cy="227.5" r="0.7"/>
<circle cx="143.9" cy="221.5" r="0.8"/>
<circle cx="385.1" cy="100.2" r="0.45"/>
<circle cx="332.6" cy="107.5" r="0.6"/>
<circle cx="305.0" cy="120.9" r="0.7"/>
<circle cx="377.6" cy="283.1" r="0.55"/>
<circle cx="294.3" cy="158.9" r="0.6"/>
<circle cx="259.7" cy="273.5" r="0.6"/>
<circle cx="337.2" cy="157.5" r="0.8"/>
<circle cx="267.1" cy="152.9" r="0.45"/>
<circle cx="126.9" cy="245.0" r="0.5"/>
<circle cx="405.1" cy="285.6" r="0.7"/>
<circle cx="107.9" cy="206.9" r="0.8"/>
<circle cx="445.0" cy="164.5" r="0.6"/>
<circle cx="366.3" cy="134.4" r="0.7"/>
<circle cx="164.9" cy="250.8" r="0.65"/>
<circle cx="170.2" cy="208.1" r="0.55"/>
<circle cx="274.0" cy="290.1" r="0.65"/>
<circle cx="463.8" cy="110.7" r="0.65"/>
<circle cx="196.5" cy="154.6" r="0.95"/>
<circle cx="431.1" cy="136.2" r="0.7"/>
<circle cx="355.7" cy="214.5" r="0.95"/>
<circle cx="168.4" cy="91.7" r="0.6"/>
<circle cx="422.8" cy="245.5" r="0.45"/>
<circle cx="394.4" cy="274.3" r="0.55"/>
<circle cx="257.1" cy="111.5" r="0.65"/>
<circle cx="356.7" cy="261.1" r="0.55"/>
<circle cx="446.8" cy="113.9" r="0.7"/>
<circle cx="122.8" cy="118.0" r="0.8"/>
<circle cx="119.9" cy="156.4" r="0.8"/>
<circle cx="97.1" cy="132.8" r="0.45"/>
<circle cx="99.1" cy="193.6" r="0.6"/>
<circle cx="312.8" cy="237.1" r="0.45"/>
<circle cx="103.2" cy="281.2" r="0.5"/>
<circle cx="433.7" cy="107.1" r="0.95"/>
<circle cx="470.3" cy="198.2" r="0.45"/>
<circle cx="155.2" cy="234.2" r="0.55"/>
<circle cx="336.0" cy="202.7" r="0.5"/>
<circle cx="294.9" cy="268.9" r="0.5"/>
<circle cx="223.1" cy="128.4" r="0.6"/>
<circle cx="375.1" cy="141.4" r="0.55"/>
<circle cx="468.6" cy="124.2" r="0.45"/>
<circle cx="246.4" cy="205.2" r="0.7"/>
<circle cx="190.3" cy="153.3" r="0.45"/>
<circle cx="343.9" cy="202.4" r="0.7"/>
<circle cx="431.9" cy="241.5" r="0.8"/>
<circle cx="251.9" cy="201.5" r="0.8"/>
<circle cx="471.2" cy="167.1" r="0.8"/>
<circle cx="434.9" cy="260.8" r="0.45"/>
</g></g>
<g stroke="#111" stroke-width="0.95" fill="none" opacity="0.6">
<line x1="57.40" y1="2.65" x2="58.45" y2="376.25"/>
<line x1="115.26" y1="2.65" x2="116.01" y2="376.25"/>
<line x1="173.11" y1="2.65" x2="173.57" y2="376.25"/>
<line x1="230.97" y1="2.65" x2="231.13" y2="376.25"/>
<line x1="288.83" y1="2.65" x2="288.69" y2="376.25"/>
<line x1="346.68" y1="2.65" x2="346.25" y2="376.25"/>
<line x1="404.54" y1="2.65" x2="403.81" y2="376.25"/>
<line x1="462.40" y1="2.65" x2="461.37" y2="376.25"/>
<line x1="50.25" y1="43.40" x2="509.0" y2="43.40"/>
<line x1="50.25" y1="101.18" x2="509.0" y2="101.18"/>
<line x1="50.25" y1="158.96" x2="509.0" y2="158.96"/>
<line x1="50.25" y1="216.74" x2="509.0" y2="216.74"/>
<line x1="50.25" y1="274.52" x2="509.0" y2="274.52"/>
<line x1="50.25" y1="332.30" x2="509.0" y2="332.30"/>
</g>
<g clip-path="url(#fc)" fill="none" stroke-linejoin="miter">
<path d="M82.20,254.30 L404.97,384.70 L534.79,61.75 M82.20,254.30 L211.52,-68.20 L534.79,61.75" stroke="#5cf000" stroke-width="1.8" stroke-dasharray="4.8 2.3"/>
<path d="M80.30,259.20 L415.20,382.68 L535.19,57.23 M80.30,259.20 L200.29,-66.25 L535.19,57.23" stroke="#a00f1c" stroke-width="1.8" stroke-dasharray="4.8 2.3"/>
<path d="M112.4,29 L105,274.6 L438.6,355.7 L496.8,31.7 L335,31.7" stroke="#15801a" stroke-width="2"/>
<path d="M113.3,3 L112.4,29 M335,31.7 L335,3" stroke="#15801a" stroke-width="2" stroke-dasharray="4.3 2.2"/>
<rect x="397.4" y="232.5" width="47.3" height="14.2" stroke="#b4fbf3" stroke-width="1.6"/>
<path d="M394.8,215.6 L438.5,218.4 L438.5,257.8 L416.8,262 L415,270 L410,272 L406.2,268.8 L406,259.4 L389.3,256.3 L389.3,227.8 L393.2,226.9 Z" stroke="#66dd10" stroke-width="1.8"/>
<path d="M389.5,144.5 L487.3,200.6 L430.9,297.2 L333.8,241.3 Z" stroke="#2244ee" stroke-width="2"/>
<rect x="105.9" y="112.9" width="101.8" height="91.7" stroke="#cc44f5" stroke-width="2"/>
<path d="M116,103 H231.5 V106.5 H346.5 V110.5 H462.1 V284 H347 V280 H231 V276 H116 Z" stroke="#7fffe0" stroke-width="2"/>
<rect x="352" y="170" width="116.2" height="115" stroke="#ff9a22" stroke-width="2"/>
<rect x="115.8" y="101.3" width="116" height="115" stroke="#fa0a0a" stroke-width="2.2"/>
</g>
<rect x="50.25" y="2.65" width="458.75" height="373.6" fill="none" stroke="#000" stroke-width="1.75"/>
<g stroke="#000" stroke-width="1.3">
<line x1="57.40" y1="2.65" x2="57.40" y2="5.75"/>
<line x1="58.45" y1="376.25" x2="58.45" y2="373.15"/>
<line x1="68.97" y1="2.65" x2="68.97" y2="5.75"/>
<line x1="69.96" y1="376.25" x2="69.96" y2="373.15"/>
<line x1="80.54" y1="2.65" x2="80.54" y2="5.75"/>
<line x1="81.47" y1="376.25" x2="81.47" y2="373.15"/>
<line x1="92.11" y1="2.65" x2="92.11" y2="5.75"/>
<line x1="92.99" y1="376.25" x2="92.99" y2="373.15"/>
<line x1="103.69" y1="2.65" x2="103.69" y2="5.75"/>
<line x1="104.50" y1="376.25" x2="104.50" y2="373.15"/>
<line x1="115.26" y1="2.65" x2="115.26" y2="5.75"/>
<line x1="116.01" y1="376.25" x2="116.01" y2="373.15"/>
<line x1="126.83" y1="2.65" x2="126.83" y2="5.75"/>
<line x1="127.52" y1="376.25" x2="127.52" y2="373.15"/>
<line x1="138.40" y1="2.65" x2="138.40" y2="5.75"/>
<line x1="139.03" y1="376.25" x2="139.03" y2="373.15"/>
<line x1="149.97" y1="2.65" x2="149.97" y2="5.75"/>
<line x1="150.55" y1="376.25" x2="150.55" y2="373.15"/>
<line x1="161.54" y1="2.65" x2="161.54" y2="5.75"/>
<line x1="162.06" y1="376.25" x2="162.06" y2="373.15"/>
<line x1="173.11" y1="2.65" x2="173.11" y2="5.75"/>
<line x1="173.57" y1="376.25" x2="173.57" y2="373.15"/>
<line x1="184.69" y1="2.65" x2="184.69" y2="5.75"/>
<line x1="185.08" y1="376.25" x2="185.08" y2="373.15"/>
<line x1="196.26" y1="2.65" x2="196.26" y2="5.75"/>
<line x1="196.59" y1="376.25" x2="196.59" y2="373.15"/>
<line x1="207.83" y1="2.65" x2="207.83" y2="5.75"/>
<line x1="208.11" y1="376.25" x2="208.11" y2="373.15"/>
<line x1="219.40" y1="2.65" x2="219.40" y2="5.75"/>
<line x1="219.62" y1="376.25" x2="219.62" y2="373.15"/>
<line x1="230.97" y1="2.65" x2="230.97" y2="5.75"/>
<line x1="231.13" y1="376.25" x2="231.13" y2="373.15"/>
<line x1="242.54" y1="2.65" x2="242.54" y2="5.75"/>
<line x1="242.64" y1="376.25" x2="242.64" y2="373.15"/>
<line x1="254.11" y1="2.65" x2="254.11" y2="5.75"/>
<line x1="254.15" y1="376.25" x2="254.15" y2="373.15"/>
<line x1="265.69" y1="2.65" x2="265.69" y2="5.75"/>
<line x1="265.67" y1="376.25" x2="265.67" y2="373.15"/>
<line x1="277.26" y1="2.65" x2="277.26" y2="5.75"/>
<line x1="277.18" y1="376.25" x2="277.18" y2="373.15"/>
<line x1="288.83" y1="2.65" x2="288.83" y2="5.75"/>
<line x1="288.69" y1="376.25" x2="288.69" y2="373.15"/>
<line x1="300.40" y1="2.65" x2="300.40" y2="5.75"/>
<line x1="300.20" y1="376.25" x2="300.20" y2="373.15"/>
<line x1="311.97" y1="2.65" x2="311.97" y2="5.75"/>
<line x1="311.71" y1="376.25" x2="311.71" y2="373.15"/>
<line x1="323.54" y1="2.65" x2="323.54" y2="5.75"/>
<line x1="323.23" y1="376.25" x2="323.23" y2="373.15"/>
<line x1="335.11" y1="2.65" x2="335.11" y2="5.75"/>
<line x1="334.74" y1="376.25" x2="334.74" y2="373.15"/>
<line x1="346.68" y1="2.65" x2="346.68" y2="5.75"/>
<line x1="346.25" y1="376.25" x2="346.25" y2="373.15"/>
<line x1="358.26" y1="2.65" x2="358.26" y2="5.75"/>
<line x1="357.76" y1="376.25" x2="357.76" y2="373.15"/>
<line x1="369.83" y1="2.65" x2="369.83" y2="5.75"/>
<line x1="369.27" y1="376.25" x2="369.27" y2="373.15"/>
<line x1="381.40" y1="2.65" x2="381.40" y2="5.75"/>
<line x1="380.79" y1="376.25" x2="380.79" y2="373.15"/>
<line x1="392.97" y1="2.65" x2="392.97" y2="5.75"/>
<line x1="392.30" y1="376.25" x2="392.30" y2="373.15"/>
<line x1="404.54" y1="2.65" x2="404.54" y2="5.75"/>
<line x1="403.81" y1="376.25" x2="403.81" y2="373.15"/>
<line x1="416.11" y1="2.65" x2="416.11" y2="5.75"/>
<line x1="415.32" y1="376.25" x2="415.32" y2="373.15"/>
<line x1="427.68" y1="2.65" x2="427.68" y2="5.75"/>
<line x1="426.83" y1="376.25" x2="426.83" y2="373.15"/>
<line x1="439.26" y1="2.65" x2="439.26" y2="5.75"/>
<line x1="438.35" y1="376.25" x2="438.35" y2="373.15"/>
<line x1="450.83" y1="2.65" x2="450.83" y2="5.75"/>
<line x1="449.86" y1="376.25" x2="449.86" y2="373.15"/>
<line x1="462.40" y1="2.65" x2="462.40" y2="5.75"/>
<line x1="461.37" y1="376.25" x2="461.37" y2="373.15"/>
<line x1="473.97" y1="2.65" x2="473.97" y2="5.75"/>
<line x1="472.88" y1="376.25" x2="472.88" y2="373.15"/>
<line x1="485.54" y1="2.65" x2="485.54" y2="5.75"/>
<line x1="484.39" y1="376.25" x2="484.39" y2="373.15"/>
<line x1="497.11" y1="2.65" x2="497.11" y2="5.75"/>
<line x1="495.91" y1="376.25" x2="495.91" y2="373.15"/>
<line x1="507.42" y1="376.25" x2="507.42" y2="373.15"/>
<line x1="50.25" y1="8.73" x2="53.35" y2="8.73"/><line x1="509.0" y1="8.73" x2="505.9" y2="8.73"/>
<line x1="50.25" y1="20.29" x2="53.35" y2="20.29"/><line x1="509.0" y1="20.29" x2="505.9" y2="20.29"/>
<line x1="50.25" y1="31.84" x2="53.35" y2="31.84"/><line x1="509.0" y1="31.84" x2="505.9" y2="31.84"/>
<line x1="50.25" y1="43.40" x2="53.35" y2="43.40"/><line x1="509.0" y1="43.40" x2="505.9" y2="43.40"/>
<line x1="50.25" y1="54.96" x2="53.35" y2="54.96"/><line x1="509.0" y1="54.96" x2="505.9" y2="54.96"/>
<line x1="50.25" y1="66.51" x2="53.35" y2="66.51"/><line x1="509.0" y1="66.51" x2="505.9" y2="66.51"/>
<line x1="50.25" y1="78.07" x2="53.35" y2="78.07"/><line x1="509.0" y1="78.07" x2="505.9" y2="78.07"/>
<line x1="50.25" y1="89.62" x2="53.35" y2="89.62"/><line x1="509.0" y1="89.62" x2="505.9" y2="89.62"/>
<line x1="50.25" y1="101.18" x2="53.35" y2="101.18"/><line x1="509.0" y1="101.18" x2="505.9" y2="101.18"/>
<line x1="50.25" y1="112.74" x2="53.35" y2="112.74"/><line x1="509.0" y1="112.74" x2="505.9" y2="112.74"/>
<line x1="50.25" y1="124.29" x2="53.35" y2="124.29"/><line x1="509.0" y1="124.29" x2="505.9" y2="124.29"/>
<line x1="50.25" y1="135.85" x2="53.35" y2="135.85"/><line x1="509.0" y1="135.85" x2="505.9" y2="135.85"/>
<line x1="50.25" y1="147.40" x2="53.35" y2="147.40"/><line x1="509.0" y1="147.40" x2="505.9" y2="147.40"/>
<line x1="50.25" y1="158.96" x2="53.35" y2="158.96"/><line x1="509.0" y1="158.96" x2="505.9" y2="158.96"/>
<line x1="50.25" y1="170.52" x2="53.35" y2="170.52"/><line x1="509.0" y1="170.52" x2="505.9" y2="170.52"/>
<line x1="50.25" y1="182.07" x2="53.35" y2="182.07"/><line x1="509.0" y1="182.07" x2="505.9" y2="182.07"/>
<line x1="50.25" y1="193.63" x2="53.35" y2="193.63"/><line x1="509.0" y1="193.63" x2="505.9" y2="193.63"/>
<line x1="50.25" y1="205.18" x2="53.35" y2="205.18"/><line x1="509.0" y1="205.18" x2="505.9" y2="205.18"/>
<line x1="50.25" y1="216.74" x2="53.35" y2="216.74"/><line x1="509.0" y1="216.74" x2="505.9" y2="216.74"/>
<line x1="50.25" y1="228.30" x2="53.35" y2="228.30"/><line x1="509.0" y1="228.30" x2="505.9" y2="228.30"/>
<line x1="50.25" y1="239.85" x2="53.35" y2="239.85"/><line x1="509.0" y1="239.85" x2="505.9" y2="239.85"/>
<line x1="50.25" y1="251.41" x2="53.35" y2="251.41"/><line x1="509.0" y1="251.41" x2="505.9" y2="251.41"/>
<line x1="50.25" y1="262.96" x2="53.35" y2="262.96"/><line x1="509.0" y1="262.96" x2="505.9" y2="262.96"/>
<line x1="50.25" y1="274.52" x2="53.35" y2="274.52"/><line x1="509.0" y1="274.52" x2="505.9" y2="274.52"/>
<line x1="50.25" y1="286.08" x2="53.35" y2="286.08"/><line x1="509.0" y1="286.08" x2="505.9" y2="286.08"/>
<line x1="50.25" y1="297.63" x2="53.35" y2="297.63"/><line x1="509.0" y1="297.63" x2="505.9" y2="297.63"/>
<line x1="50.25" y1="309.19" x2="53.35" y2="309.19"/><line x1="509.0" y1="309.19" x2="505.9" y2="309.19"/>
<line x1="50.25" y1="320.74" x2="53.35" y2="320.74"/><line x1="509.0" y1="320.74" x2="505.9" y2="320.74"/>
<line x1="50.25" y1="332.30" x2="53.35" y2="332.30"/><line x1="509.0" y1="332.30" x2="505.9" y2="332.30"/>
<line x1="50.25" y1="343.86" x2="53.35" y2="343.86"/><line x1="509.0" y1="343.86" x2="505.9" y2="343.86"/>
<line x1="50.25" y1="355.41" x2="53.35" y2="355.41"/><line x1="509.0" y1="355.41" x2="505.9" y2="355.41"/>
<line x1="50.25" y1="366.97" x2="53.35" y2="366.97"/><line x1="509.0" y1="366.97" x2="505.9" y2="366.97"/>
</g>
<g font-family="'Liberation Sans', sans-serif" fill="#000">
<text x="59.40" y="394.2" font-size="14" text-anchor="middle" textLength="28.5" lengthAdjust="spacingAndGlyphs">37.5</text>
<text x="117.11" y="394.2" font-size="14" text-anchor="middle" textLength="28.5" lengthAdjust="spacingAndGlyphs">37.0</text>
<text x="174.83" y="394.2" font-size="14" text-anchor="middle" textLength="28.5" lengthAdjust="spacingAndGlyphs">36.5</text>
<text x="232.54" y="394.2" font-size="14" text-anchor="middle" textLength="28.5" lengthAdjust="spacingAndGlyphs">36.0</text>
<text x="290.26" y="394.2" font-size="14" text-anchor="middle" textLength="28.5" lengthAdjust="spacingAndGlyphs">35.5</text>
<text x="347.97" y="394.2" font-size="14" text-anchor="middle" textLength="28.5" lengthAdjust="spacingAndGlyphs">35.0</text>
<text x="405.68" y="394.2" font-size="14" text-anchor="middle" textLength="28.5" lengthAdjust="spacingAndGlyphs">34.5</text>
<text x="463.40" y="394.2" font-size="14" text-anchor="middle" textLength="28.5" lengthAdjust="spacingAndGlyphs">34.0</text>
<text transform="translate(42.3,43.90) rotate(-90)" font-size="14.5" text-anchor="middle">-3.5</text>
<text transform="translate(42.3,101.68) rotate(-90)" font-size="14.5" text-anchor="middle">-4.0</text>
<text transform="translate(42.3,159.46) rotate(-90)" font-size="14.5" text-anchor="middle">-4.5</text>
<text transform="translate(42.3,217.24) rotate(-90)" font-size="14.5" text-anchor="middle">-5.0</text>
<text transform="translate(42.3,275.02) rotate(-90)" font-size="14.5" text-anchor="middle">-5.5</text>
<text transform="translate(42.3,332.80) rotate(-90)" font-size="14.5" text-anchor="middle">-6.0</text>
<text x="171.4" y="416.4" font-size="15.8" textLength="216.6" lengthAdjust="spacingAndGlyphs">Right ascension (deg. J2000)</text>
<text transform="translate(15.2,280) rotate(-90)" font-size="16.6" textLength="183.5" lengthAdjust="spacingAndGlyphs">Declination (deg. J2000)</text>
<text x="68.3" y="22.6" font-size="11.7" textLength="84.2" lengthAdjust="spacingAndGlyphs" fill="#fa0a0a" stroke="#fa0a0a" stroke-width="0.12">Hermes Level 4</text>
<text x="68.3" y="40.2" font-size="11.7" textLength="84.2" lengthAdjust="spacingAndGlyphs" fill="#ff9a22" stroke="#ff9a22" stroke-width="0.12">Hermes Level 3</text>
<text x="69.8" y="57.2" font-size="11.7" textLength="37.5" lengthAdjust="spacingAndGlyphs" fill="#7fffe0" stroke="#7fffe0" stroke-width="0.12">VIDEO</text>
<text x="69.6" y="74.7" font-size="11.7" textLength="33.3" lengthAdjust="spacingAndGlyphs" fill="#cc44f5" stroke="#cc44f5" stroke-width="0.12">VVDS</text>
<text x="179.2" y="22.6" font-size="11.7" textLength="40.2" lengthAdjust="spacingAndGlyphs" fill="#2244ee" stroke="#2244ee" stroke-width="0.12">SpUDS</text>
<text x="181" y="40.2" font-size="11.7" textLength="33.2" lengthAdjust="spacingAndGlyphs" fill="#66dd10" stroke="#66dd10" stroke-width="0.12">SEDS</text>
<text x="177.8" y="57.2" font-size="11.7" textLength="57.6" lengthAdjust="spacingAndGlyphs" fill="#b4fbf3" stroke="#b4fbf3" stroke-width="0.12">CANDELS</text>
<text x="178.5" y="74.7" font-size="11.7" textLength="55.4" lengthAdjust="spacingAndGlyphs" fill="#15801a" stroke="#15801a" stroke-width="0.12">XMM-LSS</text>
<text x="248.3" y="22.6" font-size="11.7" textLength="72.3" lengthAdjust="spacingAndGlyphs" fill="#66ee00" stroke="#66ee00" stroke-width="0.12">SWIRE IRAC</text>
<text x="248.3" y="40.2" font-size="11.7" textLength="73.5" lengthAdjust="spacingAndGlyphs" fill="#a81420" stroke="#a81420" stroke-width="0.12">SWIRE MIPS</text>
</g>
</svg>
</body></html>
